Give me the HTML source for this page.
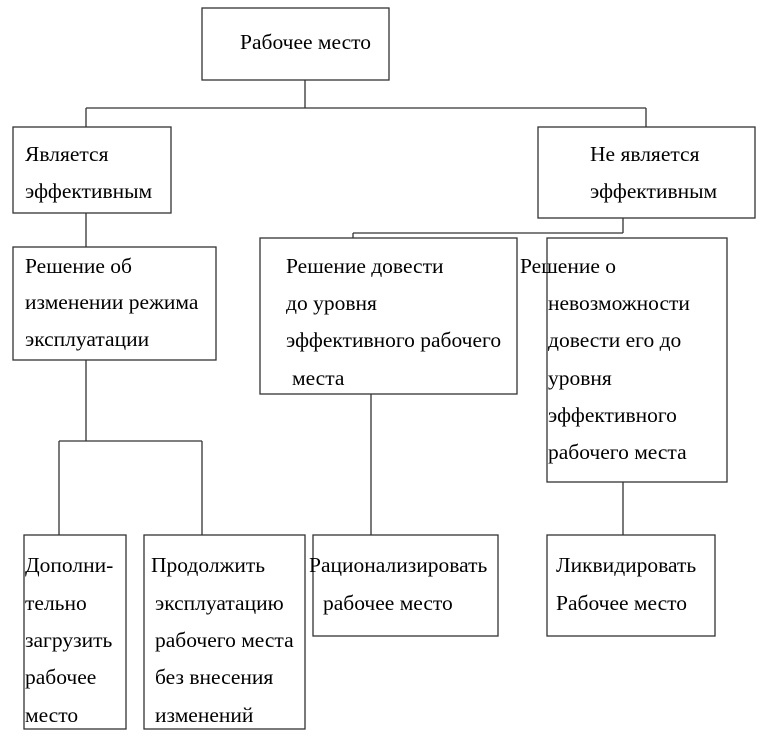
<!DOCTYPE html>
<html><head><meta charset="utf-8"><style>
html,body{margin:0;padding:0;background:#fff;}
svg{display:block;}
text{font-family:"Liberation Serif",serif;font-size:21.5px;fill:#000;}
</style></head><body>
<svg width="768" height="739" xmlns="http://www.w3.org/2000/svg">
<g fill="none" stroke="#333" stroke-width="1.3">
<rect x="202" y="8" width="187" height="72"/>
<rect x="13" y="127" width="158" height="86"/>
<rect x="538" y="127" width="217" height="91"/>
<rect x="13" y="247" width="203" height="113"/>
<rect x="260" y="238" width="257" height="156"/>
<rect x="547" y="238" width="180" height="244"/>
<rect x="24" y="535" width="102" height="194"/>
<rect x="144" y="535" width="161" height="194"/>
<rect x="313" y="535" width="185" height="101"/>
<rect x="547" y="535" width="168" height="101"/>
<path d="M305 80V108M86 108H646M86 108V127M646 108V127M86 213V247M623 218V233M353 233H623M353 233V238M86 360V441M59 441H202M59 441V535M202 441V535M371 394V535M623 482V535"/>
</g>
<text x="240" y="49">Рабочее место</text>
<text x="25" y="161">Является</text>
<text x="25" y="198">эффективным</text>
<text x="590" y="161">Не является</text>
<text x="590" y="198">эффективным</text>
<text x="25" y="273">Решение об</text>
<text x="25" y="309">изменении режима</text>
<text x="25" y="346">эксплуатации</text>
<text x="286" y="273">Решение довести</text>
<text x="286" y="310">до уровня</text>
<text x="286" y="347">эффективного рабочего</text>
<text x="292" y="385">места</text>
<text x="520" y="273">Решение о</text>
<text x="548" y="310">невозможности</text>
<text x="548" y="347">довести его до</text>
<text x="548" y="385">уровня</text>
<text x="548" y="422">эффективного</text>
<text x="548" y="459">рабочего места</text>
<text x="25" y="572">Дополни-</text>
<text x="25" y="610">тельно</text>
<text x="25" y="647">загрузить</text>
<text x="25" y="684">рабочее</text>
<text x="25" y="722">место</text>
<text x="151" y="572">Продолжить</text>
<text x="155" y="610">эксплуатацию</text>
<text x="155" y="647">рабочего места</text>
<text x="155" y="684">без внесения</text>
<text x="155" y="722">изменений</text>
<text x="309" y="572">Рационализировать</text>
<text x="323" y="610">рабочее место</text>
<text x="556" y="572">Ликвидировать</text>
<text x="556" y="610">Рабочее место</text>
</svg>
</body></html>
